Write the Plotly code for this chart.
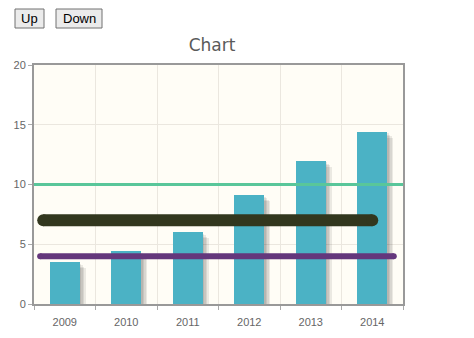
import plotly.graph_objects as go

years = ["2009", "2010", "2011", "2012", "2013", "2014"]
values = [3.5, 4.4, 6.0, 9.1, 12.0, 14.4]

line_levels = [10, 7, 4]
line_starts = [-0.5, -0.35, -0.40]
line_ends = [5.5, 5.0, 5.35]
line_colors = ["rgb(89, 198, 154)", "rgb(50, 55, 30)", "rgb(100, 55, 124)"]
line_widths = [3, 12, 6]
line_round = [False, True, True]

y_ticks = [0, 5, 10, 15, 20]

W, H = 474, 338
L, R, T, B = 34, 403, 65, 304
pw, ph = R - L, B - T
xs = list(range(len(years)))
px_x = pw / 6.0
px_y = ph / 20.0
bw = 30 / px_x

fig = go.Figure()

# bar shadows
for k in range(1, 5):
    dx = k * 1.5 / px_x
    dy = k * 1.5 / px_y
    fig.add_trace(go.Bar(
        x=xs, y=[v - dy for v in values], width=bw, offset=-bw / 2 + dx,
        marker=dict(color="rgba(0,0,0,0.08)", line=dict(width=0)),
        hoverinfo="skip", showlegend=False))

fig.add_trace(go.Bar(
    x=xs, y=values, width=bw, offset=-bw / 2,
    marker=dict(color="#4bb2c5", line=dict(width=0)), showlegend=False))

for lv, x0, x1, c, w, rnd in zip(line_levels, line_starts, line_ends, line_colors, line_widths, line_round):
    fig.add_trace(go.Scatter(
        x=[x0, x1], y=[lv, lv], mode="lines+markers" if rnd else "lines",
        line=dict(color=c, width=w),
        marker=dict(size=w, color=c, line=dict(width=0)),
        showlegend=False, hoverinfo="skip", cliponaxis=True))

def ppx(X):
    return (X - L) / pw

def ppy(Y):
    return (B - Y) / ph

shapes = []
annotations = []
for label, x0, x1 in [("Up", 15, 44), ("Down", 56, 102)]:
    shapes.append(dict(type="rect", xref="paper", yref="paper",
                       x0=ppx(x0), x1=ppx(x1), y0=ppy(28), y1=ppy(9),
                       fillcolor="#ebebeb", line=dict(color="#707070", width=1)))
    annotations.append(dict(text=label, xref="paper", yref="paper",
                            x=ppx((x0 + x1) / 2), y=ppy(18.5), showarrow=False,
                            xanchor="center", yanchor="middle",
                            font=dict(family="Liberation Sans", size=13, color="#000")))

fig.update_layout(
    width=W, height=H,
    margin=dict(l=L, r=W - R, t=T, b=H - B),
    paper_bgcolor="white", plot_bgcolor="#fffdf6",
    barmode="overlay", bargap=0,
    title=dict(text="Chart", x=(212) / W, xanchor="center", y=1 - 45 / H, yanchor="middle",
               font=dict(family="DejaVu Sans", size=17, color="#5a5a5a")),
    shapes=shapes, annotations=annotations,
    xaxis=dict(range=[-0.5, 5.5], tickvals=xs, ticktext=years, ticks="", showgrid=False,
               zeroline=False, showline=True, linecolor="#999999", linewidth=2, mirror=True,
               ticklabelstandoff=7, automargin=False,
               tickfont=dict(family="Liberation Sans", size=11, color="#666666"),
               minor=dict(tickvals=[i - 0.5 for i in range(7)], ticks="outside", ticklen=4,
                          tickcolor="#aaaaaa", showgrid=True, gridcolor="#ebe7df", gridwidth=1)),
    yaxis=dict(range=[0, 20], tickvals=y_ticks, ticks="outside", ticklen=4, tickcolor="#aaaaaa",
               showgrid=True, gridcolor="#ebe7df", gridwidth=1, zeroline=False, automargin=False,
               showline=True, linecolor="#999999", linewidth=2, mirror=True,
               tickfont=dict(family="Liberation Sans", size=11, color="#666666")),
)

fig.write_html("out.html")
